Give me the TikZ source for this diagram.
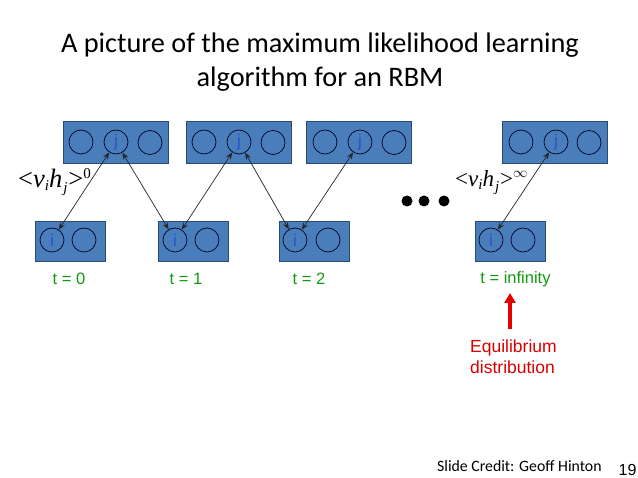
\documentclass[tikz,border=0pt]{standalone}
\usepackage{fontspec}
\setmainfont{Liberation Sans}
\newfontfamily\titlefont{Carlito}
\newfontfamily\mathserif{Liberation Serif}
\usetikzlibrary{arrows.meta}
\definecolor{boxblue}{HTML}{4A7EBB}
\definecolor{lineblue}{HTML}{2A4A72}
\definecolor{lblue}{HTML}{2A4FD0}
\definecolor{tgreen}{HTML}{109A10}
\newcommand{\lowidx}[2]{\raisebox{-#2}{\fontsize{15}{15}\selectfont\textit{#1}}}
\tikzset{x=1pt,y=-1pt,
 layer/.style={draw=lineblue,fill=boxblue,line width=0.8pt,inner sep=0pt,minimum height=#1},
 layer/.default=42pt,
 unit/.style={circle,draw=black!85!blue,line width=0.7pt,minimum size=24pt,inner sep=0pt,text=lblue,font=\fontsize{17}{17}\selectfont},
 link/.style={black!85,line width=0.7pt,{Stealth[length=7pt,width=5.5pt]}-{Stealth[length=7pt,width=5.5pt]}},
 timelab/.style={text=tgreen,font=\fontsize{16.5}{18}\selectfont,inner sep=0pt},
 stat/.style={inner sep=0pt,font=\mathserif\fontsize{26.5}{26}\selectfont},
 dotmark/.style={circle,fill=black,inner sep=0pt,minimum size=11pt}}
\begin{document}
\begin{tikzpicture}
\useasboundingbox (0,0) rectangle (638,478);
\fill[white] (0,0) rectangle (638,478);
\node[font=\titlefont\fontsize{28.3}{34}\selectfont,align=center,inner sep=0pt] (title) at (320,62.5) {A picture of the maximum likelihood learning\\algorithm for an RBM};
% top boxes
\node[layer,minimum width=105pt] (T1) at (115.5,142) {};
\node[layer,minimum width=105pt] (T2) at (238.5,142) {};
\node[layer,minimum width=105pt] (T3) at (359,142) {};
\node[layer,minimum width=105pt] (T4) at (555,142) {};
% bottom boxes
\node[layer=40pt,minimum width=70pt] (B1) at (70,241) {};
\node[layer=40pt,minimum width=70pt] (B2) at (193,241) {};
\node[layer=40pt,minimum width=70pt] (B3) at (314,241) {};
\node[layer=40pt,minimum width=70pt] (B4) at (510,241) {};
% top units
\node[unit] (a1) at (81,142) {}; \node[unit] (j1) at (116,142) {j}; \node[unit] (c1) at (150,142.5) {};
\node[unit] (a2) at (204,142) {}; \node[unit] (j2) at (239,142) {j}; \node[unit] (c2) at (273,142.5) {};
\node[unit] (a3) at (325,142) {}; \node[unit] (j3) at (360,142) {j}; \node[unit] (c3) at (394,142.5) {};
\node[unit] (a4) at (521,142) {}; \node[unit] (j4) at (556,142) {j}; \node[unit] (c4) at (589,142.5) {};
% bottom units
\node[unit] (i1) at (52,240) {i}; \node[unit] (b1) at (84,240) {};
\node[unit] (i2) at (175,240) {i}; \node[unit] (b2) at (207,240) {};
\node[unit] (i3) at (295,240) {i}; \node[unit] (b3) at (328,240) {};
\node[unit] (i4) at (491,240) {i}; \node[unit] (b4) at (523,240) {};
% links
\draw[link] (i1) -- (j1);
\draw[link] (j1) -- (i2);
\draw[link] (i2) -- (j2);
\draw[link] (j2) -- (i3);
\draw[link] (i3) -- (j3);
\draw[link] (i4) -- (j4);
% statistics
\node[stat,anchor=base west] (s0) at (18,188) {<\textit{v}\lowidx{i}{3pt}\textit{h}\hspace{1pt}\lowidx{j}{5pt}\hspace{1pt}>\raisebox{9pt}{\fontsize{15}{15}\selectfont 0}};
\node[stat,anchor=base west,font=\mathserif\fontsize{23}{23}\selectfont] (sinf) at (455,187) {<\textit{v}\lowidx{i}{3pt}\textit{h}\hspace{1pt}\lowidx{j}{5pt}\hspace{1pt}>\raisebox{9pt}{\fontsize{15}{15}\selectfont $\infty$}};
% dots
\node[dotmark] (d1) at (407,201) {};
\node[dotmark] (d2) at (424,201) {};
\node[dotmark] (d3) at (444,201) {};
% time labels
\node[timelab] (t0) at (69,279) {t = 0};
\node[timelab] (t1) at (186,279) {t = 1};
\node[timelab] (t2) at (309,279) {t = 2};
\node[timelab] (t3) at (515.5,279) {t = infinity};
% equilibrium
\coordinate (up) at (510,293);
\coordinate (upbase) at (510,329);
\node[text=red!85!black,font=\fontsize{17.5}{21}\selectfont,align=left,inner sep=0pt,anchor=north west] (eq) at (470,340) {Equilibrium\\distribution};
\draw[red!90!black,line width=3.2pt,-{Triangle[length=10pt,width=11pt]}] (upbase) -- (up);
% credit
\node[font=\titlefont\fontsize{15.8}{18}\selectfont,inner sep=0pt,anchor=west] (cr) at (437,466) {Slide Credit: Geoff Hinton};
\node[font=\fontsize{16}{18}\selectfont,inner sep=0pt] (pg) at (627.5,469.5) {19};
\end{tikzpicture}
\end{document}
